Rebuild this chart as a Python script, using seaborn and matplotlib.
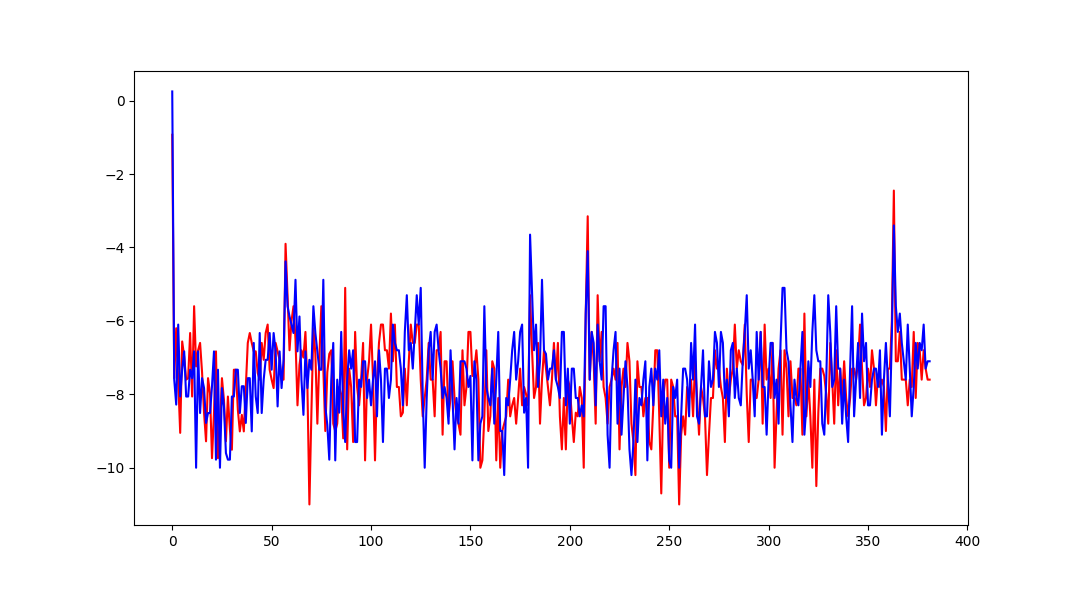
import numpy as np
import matplotlib
matplotlib.use('Agg')
import matplotlib.pyplot as plt
import seaborn as sns

# values (one point per index, 0..381)
red_vals = [
    -0.93, -7.56, -6.2, -7.6, -9.05, -6.56, -6.97, -7.6, -7.56, -6.33, -8.06, -5.6,
    -7.24, -6.8, -6.6, -7.4, -8.5, -9.28, -7.56, -7.97, -9.74, -8.5, -6.83, -9.74,
    -8.87, -7.56, -8.15, -9.28, -8.06, -8.96, -9.51, -7.33, -7.33, -8.42, -9.01, -8.56,
    -9.01, -7.83, -6.6, -6.33, -6.6, -6.83, -6.83, -7.42, -7.6, -6.6, -7.06, -6.33,
    -6.1, -7.33, -7.6, -7.83, -6.6, -6.83, -7.06, -7.6, -7.6, -3.9, -5.3, -6.8,
    -6.0, -5.6, -6.5, -8.3, -7.2, -6.8, -7.0, -6.3, -7.8, -11.0, -8.5, -6.2,
    -6.9, -8.8, -7.0, -5.6, -7.3, -9.0, -7.4, -6.9, -6.8, -8.8,
    -9.0, -8.8, -7.8, -8.0, -9.2, -5.1, -9.5, -7.3, -7.8, -9.3, -6.3, -7.8,
    -8.3, -7.6, -6.6, -9.8, -7.6, -7.1, -6.1, -7.6, -9.8, -7.6, -6.6, -6.1,
    -6.1, -6.8, -6.8, -7.3, -5.8, -7.1, -6.1, -7.8, -7.8, -8.6,
    -8.5, -7.3, -8.3, -7.1, -6.1, -6.6, -6.6, -6.1, -6.1, -7.6, -8.6, -8.1,
    -7.6, -6.6, -7.6, -7.6, -8.6, -6.8, -6.8, -6.3, -9.1, -7.1, -7.1, -8.6,
    -8.1, -7.1, -8.1, -8.6, -8.8, -9.1, -6.8, -8.3, -7.8, -6.3,
    -6.3, -7.5, -7.3, -6.8, -7.6, -10.0, -9.8, -8.6, -6.8, -9.0, -8.6, -7.1,
    -7.3, -9.8, -8.1, -10.0, -9.0, -8.8, -8.6, -7.6, -8.6, -8.3, -8.1, -8.8,
    -8.1, -7.3, -8.3, -7.8, -8.0, -8.3, -5.3, -6.8, -8.1, -7.8,
    -6.6, -8.8, -7.6, -6.8, -7.3, -7.8, -8.3, -7.6, -6.6, -7.6, -6.6, -8.6,
    -9.5, -8.1, -9.5, -7.6, -7.8, -8.6, -9.3, -8.5, -8.6, -7.8, -8.1, -10.0,
    -5.8, -3.15, -7.6, -6.3, -7.1, -8.8, -5.3, -7.1, -6.3, -7.8,
    -8.1, -8.8, -7.8, -7.6, -7.3, -7.6, -6.6, -9.5, -7.8, -7.3, -7.8, -6.6,
    -7.1, -8.8, -9.3, -10.2, -7.1, -7.8, -7.8, -8.6, -8.1, -8.1, -9.3, -9.5,
    -8.3, -6.8, -6.8, -8.6, -10.7, -8.1, -7.6, -7.6, -10.0, -7.6,
    -7.8, -8.6, -8.6, -11.0, -9.1, -8.6, -9.1, -7.8, -8.1, -7.6, -8.6, -7.1,
    -8.1, -9.1, -7.8, -8.1, -8.6, -10.2, -9.1, -8.1, -8.1, -6.8, -7.3, -7.3,
    -7.8, -8.1, -9.3, -7.3, -8.1, -7.6, -7.3, -6.1, -7.3, -6.8,
    -7.1, -7.2, -6.1, -8.0, -9.3, -7.6, -7.6, -8.1, -8.1, -7.6, -6.3, -8.8,
    -6.1, -7.6, -7.3, -8.1, -6.6, -10.0, -8.5, -7.3, -6.8, -9.1, -6.8, -7.3,
    -8.6, -7.1, -8.1, -8.1, -8.3, -7.3, -7.3, -9.1, -5.8, -8.6,
    -7.6, -8.6, -10.0, -7.6, -10.5, -8.5, -7.3, -7.3, -7.5, -8.0, -8.8, -6.6,
    -7.6, -8.8, -6.8, -8.3, -7.3, -8.1, -7.1, -8.1, -8.6, -8.1, -7.3, -7.3,
    -7.6, -7.1, -6.1, -7.3, -8.3, -8.1, -7.3, -7.8, -6.8, -7.3,
    -8.3, -7.5, -7.8, -7.6, -7.8, -9.0, -7.3, -7.3, -6.0, -2.45, -7.1, -7.1,
    -6.3, -7.6, -7.6, -7.6, -8.3, -7.6, -7.8, -6.3, -8.1, -6.6, -6.8, -7.6,
    -6.8, -7.3, -7.6, -7.6,
]

blue_vals = [
    0.25, -7.6, -8.28, -6.1, -8.06, -7.33, -6.83, -8.06, -8.06, -7.33, -7.56, -6.83,
    -10.0, -6.83, -8.51, -7.56, -7.83, -8.78, -8.51, -8.51, -7.78, -6.83, -9.78, -7.33,
    -10.0, -7.83, -8.33, -9.6, -9.78, -9.78, -8.06, -8.06, -7.33, -7.33, -8.51, -7.78,
    -7.78, -8.78, -7.56, -7.56, -9.01, -6.6, -8.06, -8.51, -6.33, -8.51, -7.6, -7.06,
    -7.06, -6.33, -7.33, -6.33, -6.83, -8.33, -6.83, -7.83, -7.06, -4.38, -5.6, -5.88,
    -6.1, -6.33, -4.88, -6.83, -5.88, -7.6, -8.56, -6.83, -7.83, -7.06, -7.33, -5.6,
    -6.33, -6.83, -7.33, -7.33, -4.88, -8.33, -8.83, -9.78, -7.6, -6.6,
    -9.8, -7.6, -8.5, -6.3, -8.5, -9.3, -7.6, -6.8, -7.3, -6.8, -9.3, -9.3,
    -7.6, -7.8, -7.1, -7.1, -8.1, -7.6, -8.3, -7.6, -7.1, -8.6, -6.8, -7.6,
    -9.3, -7.3, -7.3, -8.1, -7.6, -6.1, -6.6, -6.8, -6.8, -7.3,
    -8.3, -6.3, -5.3, -6.8, -6.6, -7.3, -6.3, -5.3, -6.1, -5.1, -8.0, -10.0,
    -8.1, -6.8, -6.3, -7.6, -6.3, -6.1, -6.8, -7.3, -8.1, -7.8, -8.1, -8.8,
    -6.8, -8.1, -9.5, -8.1, -8.8, -7.1, -7.1, -7.1, -7.3, -7.8,
    -7.5, -9.8, -7.1, -7.6, -9.8, -8.8, -8.6, -5.6, -7.8, -8.1, -8.3, -7.3,
    -8.8, -7.6, -6.3, -9.0, -9.0, -10.2, -8.1, -8.3, -7.6, -6.8, -6.3, -7.6,
    -7.1, -6.3, -6.1, -8.5, -8.1, -10.0, -3.65, -5.2, -6.8, -6.1,
    -7.8, -7.1, -4.88, -6.8, -6.9, -7.6, -7.3, -7.3, -6.8, -7.6, -7.8, -8.1,
    -6.3, -6.3, -8.3, -7.3, -8.8, -7.3, -7.3, -8.1, -8.1, -8.6, -8.3, -8.6,
    -5.8, -4.1, -7.6, -6.3, -6.6, -8.3, -6.1, -7.1, -7.6, -5.6,
    -5.6, -9.1, -10.0, -7.6, -6.8, -6.3, -8.8, -7.3, -9.1, -8.1, -7.1, -7.8,
    -9.5, -10.2, -9.3, -7.6, -9.3, -8.1, -8.3, -7.6, -7.1, -9.8, -7.8, -7.3,
    -8.3, -7.3, -7.6, -6.8, -8.6, -7.6, -8.8, -8.1, -9.8, -10.0,
    -7.8, -8.1, -7.6, -10.0, -8.6, -7.3, -7.3, -7.6, -8.6, -6.6, -7.6, -6.1,
    -8.6, -8.8, -7.8, -6.8, -8.6, -8.6, -7.1, -7.8, -7.6, -6.3, -6.6, -7.8,
    -6.3, -6.6, -8.1, -7.6, -8.6, -6.8, -6.6, -8.1, -7.3, -8.1,
    -8.3, -7.1, -6.3, -5.3, -7.3, -6.8, -7.6, -8.6, -6.3, -7.6, -6.3, -7.8,
    -7.8, -9.1, -7.6, -6.6, -6.6, -8.1, -7.6, -8.8, -6.6, -5.1, -5.1, -6.8,
    -7.1, -8.3, -9.3, -7.6, -8.1, -8.3, -7.3, -6.3, -9.1, -8.3,
    -7.1, -7.8, -6.3, -5.3, -6.8, -7.1, -7.1, -8.8, -9.1, -7.6, -5.3, -6.3,
    -7.8, -7.6, -5.6, -7.3, -7.3, -8.8, -7.6, -8.6, -9.3, -7.3, -5.6, -8.6,
    -7.6, -6.6, -8.1, -5.8, -7.1, -6.6, -8.3, -8.3, -7.6, -7.3,
    -7.3, -7.8, -6.8, -9.1, -7.6, -6.6, -7.6, -8.6, -6.4, -3.4, -5.6, -6.3,
    -5.8, -6.6, -7.1, -7.6, -6.1, -7.3, -8.6, -7.8, -6.6, -7.3, -6.6, -6.8,
    -6.1, -7.3, -7.1, -7.1,
]

x_red = np.arange(len(red_vals))
x_blue = np.arange(len(blue_vals))

fig, ax = plt.subplots(figsize=(10.75, 5.9), dpi=100)
sns.lineplot(x=x_red, y=red_vals, color='red', linewidth=1.5, ax=ax)
sns.lineplot(x=x_blue, y=blue_vals, color='blue', linewidth=1.5, ax=ax)
ax.set_xlabel('')
ax.set_ylabel('')

plt.savefig('out.png', dpi=100)
